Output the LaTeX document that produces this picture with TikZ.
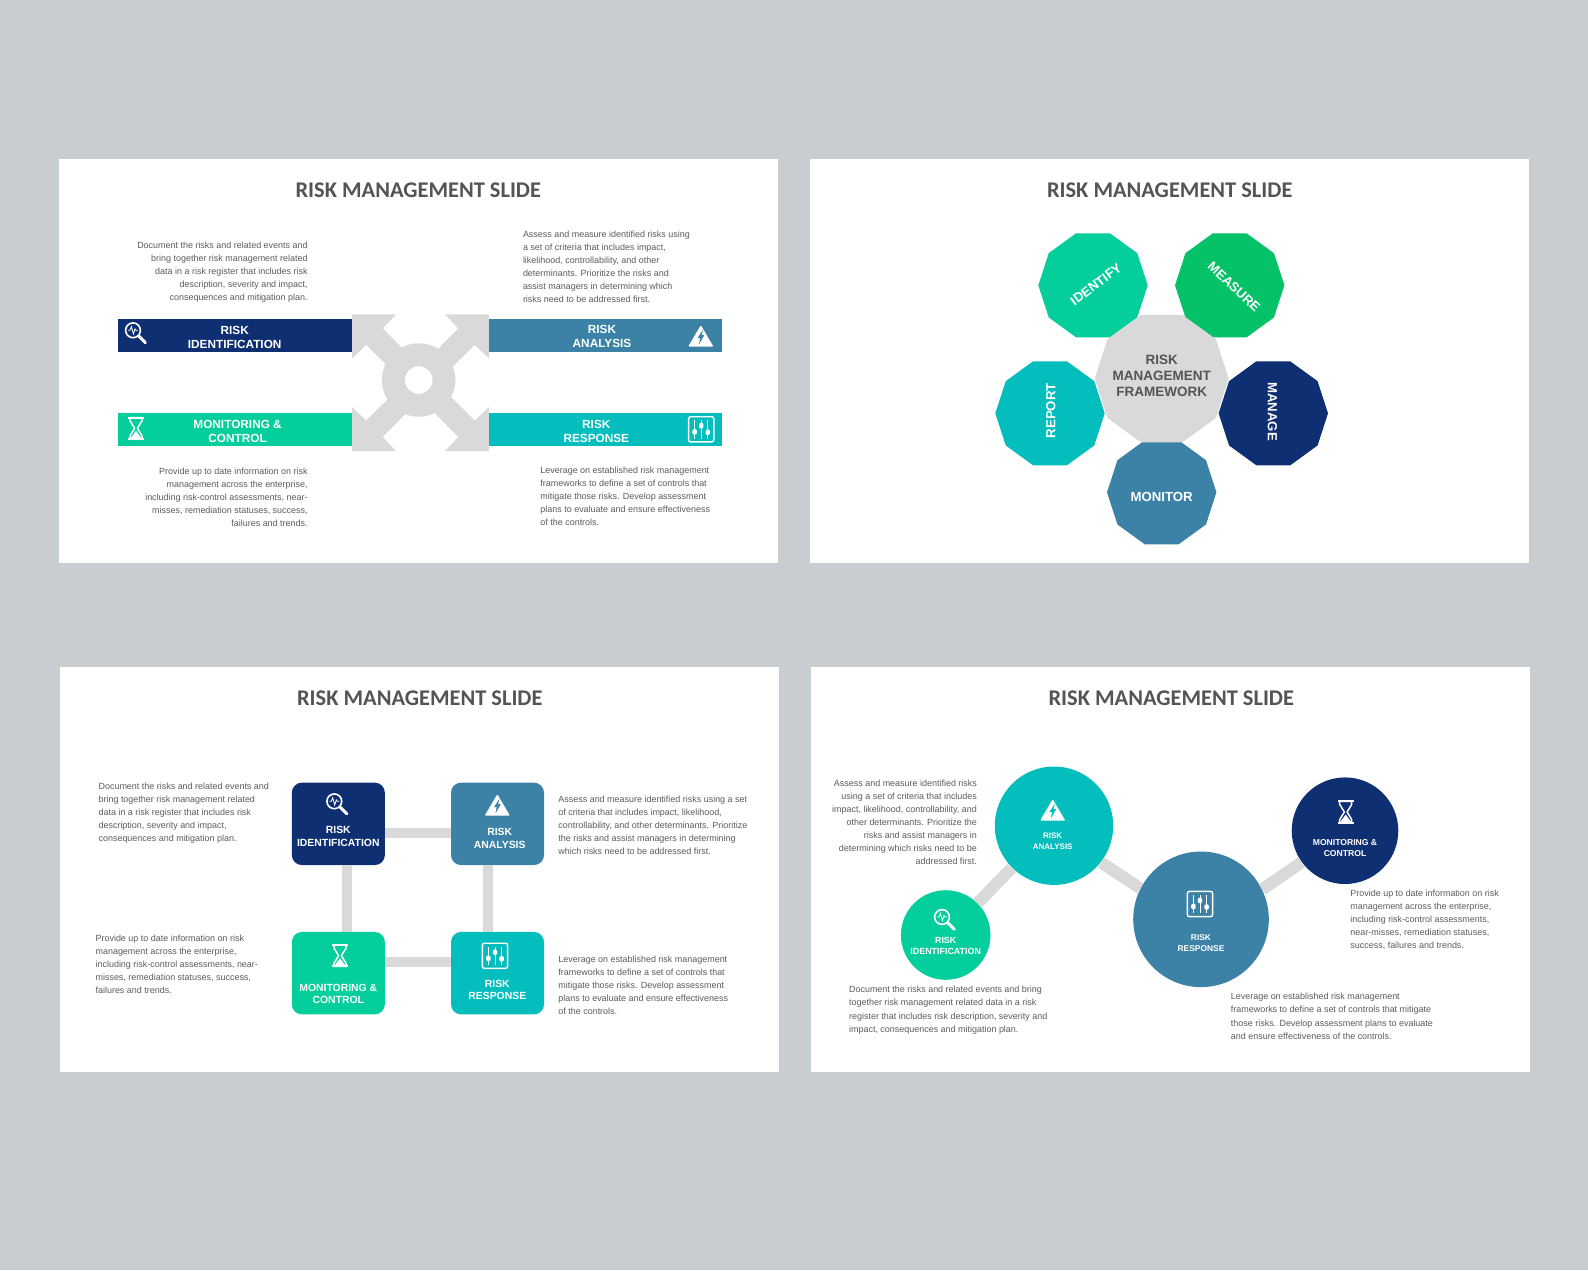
\documentclass[tikz,border=0pt]{standalone}
\usepackage{fontspec}
\setmainfont{Liberation Sans}
\newfontfamily\titlefont{Carlito}
\usetikzlibrary{shapes.geometric}
\definecolor{slidebg}{HTML}{C8CDD1}
\definecolor{navyc}{HTML}{0F2F73}
\definecolor{bluec}{HTML}{3B82A6}
\definecolor{mintc}{HTML}{04CE9B}
\definecolor{tealc}{HTML}{04BDBD}
\definecolor{greenc}{HTML}{05C168}
\definecolor{greyc}{HTML}{D9D9D9}
\definecolor{titlec}{HTML}{545454}
\definecolor{bodyc}{HTML}{5C5C5C}
\tikzset{
  slidetitle/.style={font=\titlefont\bfseries\fontsize{11.2}{13}\selectfont, text=titlec, inner sep=0pt},
  bodytext/.style={font=\fontsize{4.48}{6.55}\selectfont, text=bodyc, inner sep=0pt},
  barlabel/.style={font=\bfseries\fontsize{5.9}{7.2}\selectfont, text=white, align=center, inner sep=0pt},
  polylabel/.style={font=\bfseries\fontsize{6.6}{8}\selectfont, text=white, align=center, inner sep=0pt},
  boxlabel/.style={font=\bfseries\fontsize{5.2}{6.3}\selectfont, text=white, align=center, inner sep=0pt},
  circlabel/.style={font=\bfseries\fontsize{4.3}{5.5}\selectfont, text=white, align=center, inner sep=0pt},
  deca/.style={regular polygon, regular polygon sides=10, inner sep=0pt, minimum size=54.7pt},
  roundbox/.style={rectangle, rounded corners=5pt, inner sep=0pt, minimum width=46.5pt, minimum height=41.2pt},
  linkbar/.style={draw=greyc, line width=#1},
  pics/magnifier/.style={code={
    \draw [white, line width=0.8pt] (-3,-3) circle (7.4);%
    \draw [white, line width=1.5pt, line cap=round] (3,3) -- (9.4,9.4);%
    \draw [white, line width=0.42pt] (-8,-3) -- (-6,-3) -- (-4.6,-6.6) -- (-2.6,0.6) -- (-1,-4.4) -- (0,-3) -- (2,-3);%
  }},
  pics/warnsign/.style={code={
    \fill [white, rounded corners=0.5pt] (0,-10.8) -- (12.6,10.6) -- (-12.6,10.6) -- cycle;%
    \fill [#1] (2.2,-6.4) -- (-3.2,2) -- (-0.6,2) -- (-1.8,8.4) -- (3.4,-0.8) -- (0.8,-0.8) -- cycle;%
  }},
  pics/hourglass/.style={code={
    \draw [white, line width=0.75pt] (-6,-10.6) -- (-6,-7.6) -- (-1.4,0) -- (-6,7.6) -- (-6,10.6) -- (6,10.6) -- (6,7.6) -- (1.4,0) -- (6,-7.6) -- (6,-10.6) -- cycle;%
    \draw [white, line width=1pt] (-8,-10.6) -- (8,-10.6);%
    \draw [white, line width=1pt] (-8,10.6) -- (8,10.6);%
    \fill [white] (0,2.5) -- (6,10.6) -- (-6,10.6) -- cycle;%
  }},
  pics/sliders/.style={code={
    \draw [white, line width=0.7pt, rounded corners=1pt] (-12.6,-12.6) rectangle (12.6,12.6);%
    \foreach \sx/\sy in {-6.6/2.5,0/-3.5,6.6/3} {
      \draw [white, line width=0.5pt] (\sx,-9.2) -- (\sx,9.2);%
      \fill [white, rounded corners=0.6pt] (\sx-2.2,\sy-2.6) rectangle (\sx+2.2,\sy+2.6);%
    }
  }},
}
\begin{document}
\begin{tikzpicture}[x=0.5pt,y=-0.5pt]
  % Slide background
  \fill [slidebg] (0,0) rectangle (1588,1270);%
  \useasboundingbox (0,0) rectangle (1588,1270);%

  % Drawing the four panels
  \fill [white] (59,158.5) rectangle (778,563);%
  \fill [white] (810,158.5) rectangle (1529,563);%
  \fill [white] (60,667) rectangle (779,1071.5);%
  \fill [white] (811,667) rectangle (1530,1071.5);%

  % Panel titles
  \draw (418.3,190.4) node (titleA) [slidetitle] {RISK MANAGEMENT SLIDE};%
  \draw (1169.7,190.4) node (titleB) [slidetitle] {RISK MANAGEMENT SLIDE};%
  \draw (419.8,698.4) node (titleC) [slidetitle] {RISK MANAGEMENT SLIDE};%
  \draw (1171.3,698.4) node (titleD) [slidetitle] {RISK MANAGEMENT SLIDE};%

  % Panel A: bars
  \fill [navyc] (118,319) rectangle (352.3,352);%
  \fill [bluec] (488.7,319) rectangle (722,352);%
  \fill [mintc] (118,413.3) rectangle (352.3,446);%
  \fill [tealc] (488.7,413.3) rectangle (722,446);%

  % Panel A: cross of arrows
  \foreach \r in {0,90,180,270} {
    \begin{scope}[shift={(420.5,382.7)}, rotate=\r]
      \fill [greyc] (-68.3,-68.3) -- (-24.5,-68.3) -- (-37.8,-54.3) -- (-8,-24) -- (-24,-8) -- (-54.3,-37.8) -- (-68.3,-24.5) -- cycle;%
    \end{scope}
  }
  \fill [greyc] (418.7,380) circle (36.7);%
  \fill [white] (418.7,380) circle (13.8);%

  % Panel A: bar labels and icons
  \draw (234.7,337.2) node (barIdent) [barlabel] {RISK\\IDENTIFICATION};%
  \draw (602,336.5) node (barAnalysis) [barlabel] {RISK\\ANALYSIS};%
  \draw (237.6,431.3) node (barMonitor) [barlabel] {MONITORING \&\\CONTROL};%
  \draw (596.3,431.3) node (barResponse) [barlabel] {RISK\\RESPONSE};%
  \pic at (136,333.3) {magnifier};%
  \pic at (700.8,336) {warnsign=bluec};%
  \pic at (136,428.3) {hourglass};%
  \pic at (701.2,429.3) {sliders};%

  % Panel A: texts
  \draw (308,272.4) node (textA1) [bodytext, anchor=east, align=right] {Document the risks and related events and\\bring together risk management related\\data in a risk register that includes risk\\description, severity and impact,\\consequences and mitigation plan.};%
  \draw (522.6,266.9) node (textA2) [bodytext, anchor=west, align=left] {Assess and measure identified risks using\\a set of criteria that includes impact,\\likelihood, controllability, and other\\determinants. Prioritize the risks and\\assist managers in determining which\\risks need to be addressed first.};%
  \draw (308,497.3) node (textA3) [bodytext, anchor=east, align=right] {Provide up to date information on risk\\management across the enterprise,\\including risk-control assessments, near-\\misses, remediation statuses, success,\\failures and trends.};%
  \draw (540,496.3) node (textA4) [bodytext, anchor=west, align=left] {Leverage on established risk management\\frameworks to define a set of controls that\\mitigate those risks. Develop assessment\\plans to evaluate and ensure effectiveness\\of the controls.};%

  % Panel B: polygons
  \draw (1093,285.3) node (identify) [deca, fill=mintc] {};%
  \draw (1229.7,285.3) node (measure) [deca, fill=greenc] {};%
  \draw (1050,413.3) node (report) [deca, fill=tealc] {};%
  \draw (1273.3,413.3) node (manage) [deca, fill=navyc] {};%
  \draw (1161.7,492.3) node (monitor) [deca, fill=bluec] {};%
  \draw (1161.7,378.6) node (framework) [deca, minimum size=67pt, fill=greyc] {};%
  \draw (1161.7,376) node (frameworkLabel) [font=\bfseries\fontsize{6.75}{8}\selectfont, text=titlec, align=center, inner sep=0pt] {RISK\\MANAGEMENT\\FRAMEWORK};%
  \draw (1096,284.3) node (identifyLabel) [polylabel, rotate=37] {IDENTIFY};%
  \draw (1234,286.7) node (measureLabel) [polylabel, rotate=-43] {MEASURE};%
  \draw (1050.7,410.7) node (reportLabel) [polylabel, rotate=90] {REPORT};%
  \draw (1272.3,411.7) node (manageLabel) [polylabel, rotate=-90] {MANAGE};%
  \draw (1161.7,496.7) node (monitorLabel) [polylabel] {MONITOR};%

  % Panel C: boxes
  \draw (338.35,823.85) node (boxIdent) [roundbox, fill=navyc] {};%
  \draw (497.5,823.85) node (boxAnalysis) [roundbox, fill=bluec] {};%
  \draw (338.35,973.15) node (boxMonitor) [roundbox, fill=mintc] {};%
  \draw (497.5,973.15) node (boxResponse) [roundbox, fill=tealc] {};%

  % Panel C: links between boxes
  \draw [linkbar=5pt] ([yshift=-4.7pt]boxIdent.east) -- ([yshift=-4.7pt]boxAnalysis.west);%
  \draw [linkbar=5pt] ([yshift=5.7pt]boxMonitor.east) -- ([yshift=5.7pt]boxResponse.west);%
  \draw [linkbar=5pt] ([xshift=4.2pt]boxIdent.south) -- ([xshift=4.2pt]boxMonitor.north);%
  \draw [linkbar=5pt] ([xshift=-4.6pt]boxAnalysis.south) -- ([xshift=-4.6pt]boxResponse.north);%

  % Panel C: box labels and icons
  \draw (338.3,836.7) node (labelIdent) [boxlabel] {RISK\\IDENTIFICATION};%
  \draw (499.7,838.2) node (labelAnalysis) [boxlabel] {RISK\\ANALYSIS};%
  \draw (338.3,994) node (labelMonitor) [boxlabel] {MONITORING \&\\CONTROL};%
  \draw (497.3,989.8) node (labelResponse) [boxlabel] {RISK\\RESPONSE};%
  \pic at (337.3,804.3) {magnifier};%
  \pic at (497.3,805) {warnsign=bluec};%
  \pic at (340,955.7) {hourglass};%
  \pic at (495,955.8) {sliders};%

  % Panel C: texts
  \draw (98.2,813.3) node (textC1) [bodytext, anchor=west, align=left] {Document the risks and related events and\\bring together risk management related\\data in a risk register that includes risk\\description, severity and impact,\\consequences and mitigation plan.};%
  \draw (558,825.4) node (textC2) [bodytext, anchor=west, align=left] {Assess and measure identified risks using a set\\of criteria that includes impact, likelihood,\\controllability, and other determinants. Prioritize\\the risks and assist managers in determining\\which risks need to be addressed first.};%
  \draw (95.2,964.2) node (textC3) [bodytext, anchor=west, align=left] {Provide up to date information on risk\\management across the enterprise,\\including risk-control assessments, near-\\misses, remediation statuses, success,\\failures and trends.};%
  \draw (558,985.4) node (textC4) [bodytext, anchor=west, align=left] {Leverage on established risk management\\frameworks to define a set of controls that\\mitigate those risks. Develop assessment\\plans to evaluate and ensure effectiveness\\of the controls.};%

  % Panel D: circles
  \draw (945.7,935) node (circIdent) [circle, inner sep=0pt, minimum size=44.8pt, fill=mintc] {};%
  \draw (1054,825.7) node (circAnalysis) [circle, inner sep=0pt, minimum size=59.2pt, fill=tealc] {};%
  \draw (1201,919.3) node (circResponse) [circle, inner sep=0pt, minimum size=67.8pt, fill=bluec] {};%
  \draw (1345,830.7) node (circMonitor) [circle, inner sep=0pt, minimum size=53.3pt, fill=navyc] {};%

  % Panel D: links between circles
  \draw [linkbar=6pt] (circIdent.45) -- (circAnalysis.225);%
  \draw [linkbar=6pt] (circAnalysis.-38.8) -- (circResponse.153.6);%
  \draw [linkbar=6pt] (circResponse.26.6) -- (circMonitor.216.6);%

  % Panel D: circle labels and icons
  \draw (945.7,946) node (capIdent) [circlabel, font=\bfseries\fontsize{4.45}{5.5}\selectfont] {RISK\\IDENTIFICATION};%
  \draw (1052.7,841.5) node (capAnalysis) [circlabel, font=\bfseries\fontsize{4}{5.5}\selectfont] {RISK\\ANALYSIS};%
  \draw (1201,942.7) node (capResponse) [circlabel, font=\bfseries\fontsize{4.2}{5.4}\selectfont] {RISK\\RESPONSE};%
  \draw (1345,847.8) node (capMonitor) [circlabel] {MONITORING \&\\CONTROL};%
  \pic at (945,920) {magnifier};%
  \pic at (1052.7,810) {warnsign=tealc};%
  \pic at (1200,904) {sliders};%
  \pic at (1345.7,812) {hourglass};%

  % Panel D: texts
  \draw (977.3,822.4) node (textD1) [bodytext, anchor=east, align=right] {Assess and measure identified risks\\using a set of criteria that includes\\impact, likelihood, controllability, and\\other determinants. Prioritize the\\risks and assist managers in\\determining which risks need to be\\addressed first.};%
  \draw (848.7,1010.2) node (textD2) [bodytext, anchor=west, align=left] {Document the risks and related events and bring\\together risk management related data in a risk\\register that includes risk description, severity and\\impact, consequences and mitigation plan.};%
  \draw (1230.5,1016.3) node (textD3) [bodytext, anchor=west, align=left] {Leverage on established risk management\\frameworks to define a set of controls that mitigate\\those risks. Develop assessment plans to evaluate\\and ensure effectiveness of the controls.};%
  \draw (1350,919.6) node (textD4) [bodytext, anchor=west, align=left] {Provide up to date information on risk\\management across the enterprise,\\including risk-control assessments,\\near-misses, remediation statuses,\\success, failures and trends.};%
\end{tikzpicture}
\end{document}
